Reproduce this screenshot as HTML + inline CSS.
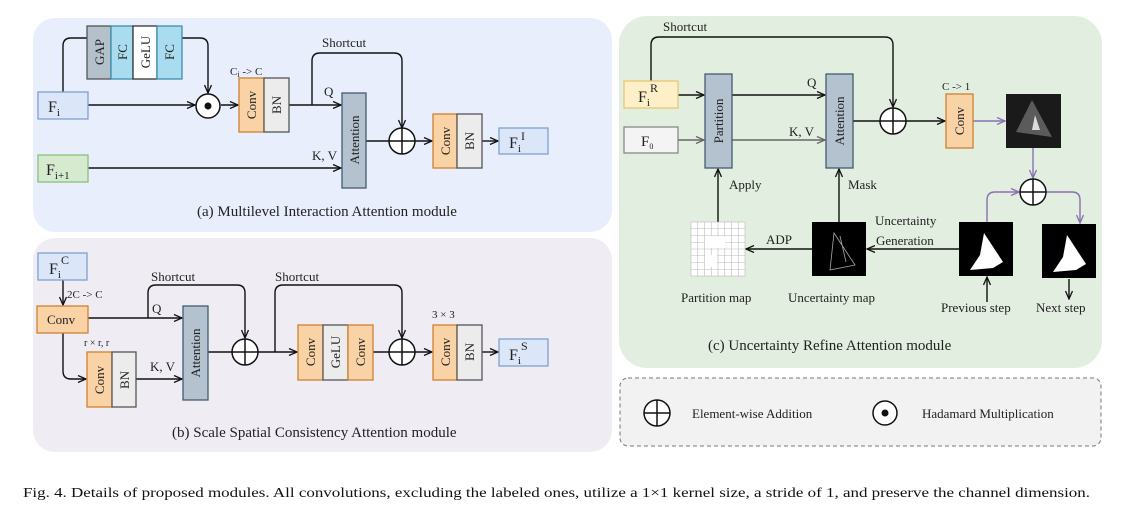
<!DOCTYPE html>
<html><head><meta charset="utf-8"><style>
html,body{margin:0;padding:0;background:#fff}
svg{display:block;font-family:"Liberation Serif",serif}
</style></head><body>
<svg width="1132" height="515" viewBox="0 0 1132 515" xmlns="http://www.w3.org/2000/svg">
<defs>
<marker id="a" markerWidth="10" markerHeight="8" refX="9" refY="4" orient="auto" markerUnits="userSpaceOnUse"><path d="M1,0.5 L9,4 L1,7.5" fill="none" stroke="#111" stroke-width="1.3"/></marker>
<marker id="g" markerWidth="10" markerHeight="8" refX="9" refY="4" orient="auto" markerUnits="userSpaceOnUse"><path d="M1,0.5 L9,4 L1,7.5" fill="none" stroke="#666" stroke-width="1.3"/></marker>
<marker id="p" markerWidth="10" markerHeight="8" refX="9" refY="4" orient="auto" markerUnits="userSpaceOnUse"><path d="M1,0.5 L9,4 L1,7.5" fill="none" stroke="#8a6fb0" stroke-width="1.3"/></marker>
</defs>
<!-- panels -->
<rect x="33" y="18" width="579" height="214" rx="22" fill="#e8eefb"/>
<rect x="33" y="238" width="579" height="214" rx="22" fill="#efedf3"/>
<rect x="619" y="16" width="483" height="352" rx="28" fill="#e2eedf"/>
<rect x="620" y="378" width="481" height="68" rx="8" fill="#f2f2f2" stroke="#777" stroke-dasharray="4,3"/>

<g fill="none" stroke="#111" stroke-width="1.4">
<!-- panel a -->
<path d="M63,92 V46 Q63,38 71,38 H87"/>
<path d="M182,38 H200 Q208,38 208,46 V93" marker-end="url(#a)"/>
<path d="M88,105 H195" marker-end="url(#a)"/>
<path d="M221,105 H238" marker-end="url(#a)"/>
<path d="M289,105 H341" marker-end="url(#a)"/>
<path d="M312,105 V61 Q312,53 320,53 H394 Q402,53 402,61 V128" marker-end="url(#a)"/>
<path d="M88,168 H341" marker-end="url(#a)"/>
<path d="M366,141 H432" marker-end="url(#a)"/>
<path d="M482,141 H498" marker-end="url(#a)"/>
<!-- panel b -->
<path d="M63,280 V305" marker-end="url(#a)"/>
<path d="M88,318 H182" marker-end="url(#a)"/>
<path d="M148,318 V293 Q148,285 156,285 H237 Q245,285 245,293 V338" marker-end="url(#a)"/>
<path d="M63,333 V371 Q63,379 71,379 H86" marker-end="url(#a)"/>
<path d="M136,379 H182" marker-end="url(#a)"/>
<path d="M208,352 H297" marker-end="url(#a)"/>
<path d="M275,352 V293 Q275,285 283,285 H394 Q402,285 402,293 V338" marker-end="url(#a)"/>
<path d="M373,352 H432" marker-end="url(#a)"/>
<path d="M482,352 H498" marker-end="url(#a)"/>
<!-- panel c -->
<path d="M651,81 V45 Q651,37 659,37 H885 Q893,37 893,45 V107" marker-end="url(#a)"/>
<path d="M678,95 H704" marker-end="url(#a)"/>
<path d="M732,95 H825" marker-end="url(#a)"/>
<path d="M853,121 H945" marker-end="url(#a)"/>
<path d="M718,222 V169" marker-end="url(#a)"/>
<path d="M839,222 V169" marker-end="url(#a)"/>
<path d="M959,249 H867" marker-end="url(#a)"/>
<path d="M812,249 H746" marker-end="url(#a)"/>
<path d="M987,302 V277" marker-end="url(#a)"/>
<path d="M1069,279 V299" marker-end="url(#a)"/>
</g>
<g fill="none" stroke="#666" stroke-width="1.4">
<path d="M678,140 H704" marker-end="url(#g)"/>
<path d="M732,140 H825" marker-end="url(#g)"/>
</g>
<g fill="none" stroke="#8a6fb0" stroke-width="1.4">
<path d="M973,121 H1005" marker-end="url(#p)"/>
<path d="M1033,148 V178" marker-end="url(#p)"/>
<path d="M987,222 V200 Q987,192 995,192 H1019" marker-end="url(#p)"/>
<path d="M1046,192 H1072 Q1080,192 1080,200 V223" marker-end="url(#p)"/>
</g>

<!-- boxes panel a -->
<g stroke-width="1.3">
<rect x="87" y="26" width="24" height="53" fill="#b4c0ca" stroke="#555"/>
<rect x="111" y="26" width="22" height="53" fill="#a9dcef" stroke="#3a8fb0"/>
<rect x="133" y="26" width="24" height="53" fill="#fff" stroke="#333"/>
<rect x="157" y="26" width="25" height="53" fill="#a9dcef" stroke="#3a8fb0"/>
<rect x="38" y="92" width="50" height="27" fill="#dbe6f8" stroke="#7fa0d0"/>
<rect x="38" y="155" width="50" height="27" fill="#d6ead0" stroke="#8cc07a"/>
<rect x="239" y="78" width="25" height="54" fill="#f9d3a6" stroke="#d08030"/>
<rect x="264" y="78" width="25" height="54" fill="#ececec" stroke="#555"/>
<rect x="342" y="93" width="24" height="95" fill="#b4c2cf" stroke="#455a70"/>
<rect x="433" y="114" width="24" height="54" fill="#f9d3a6" stroke="#d08030"/>
<rect x="457" y="114" width="25" height="54" fill="#ececec" stroke="#555"/>
<rect x="499" y="128" width="49" height="26" fill="#dbe6f8" stroke="#7fa0d0"/>
<!-- b -->
<rect x="38" y="253" width="49" height="27" fill="#dbe6f8" stroke="#7fa0d0"/>
<rect x="37" y="306" width="51" height="27" fill="#f9d3a6" stroke="#d08030"/>
<rect x="87" y="352" width="25" height="55" fill="#f9d3a6" stroke="#d08030"/>
<rect x="112" y="352" width="24" height="55" fill="#ececec" stroke="#555"/>
<rect x="183" y="306" width="25" height="94" fill="#b4c2cf" stroke="#455a70"/>
<rect x="298" y="325" width="25" height="55" fill="#f9d3a6" stroke="#d08030"/>
<rect x="323" y="325" width="25" height="55" fill="#ececec" stroke="#555"/>
<rect x="348" y="325" width="25" height="55" fill="#f9d3a6" stroke="#d08030"/>
<rect x="433" y="325" width="24" height="55" fill="#f9d3a6" stroke="#d08030"/>
<rect x="457" y="325" width="25" height="55" fill="#ececec" stroke="#555"/>
<rect x="499" y="339" width="49" height="27" fill="#dbe6f8" stroke="#7fa0d0"/>
<!-- c -->
<rect x="624" y="81" width="54" height="27" fill="#fdf0c8" stroke="#e8c870"/>
<rect x="624" y="127" width="54" height="26" fill="#f4f4f4" stroke="#888"/>
<rect x="705" y="74" width="27" height="94" fill="#b4c2cf" stroke="#455a70"/>
<rect x="826" y="74" width="27" height="94" fill="#b4c2cf" stroke="#455a70"/>
<rect x="946" y="94" width="27" height="54" fill="#f9d3a6" stroke="#d08030"/>
</g>
<!-- images -->
<rect x="1006" y="94" width="55" height="54" fill="#1a1a1a"/>
<path d="M1032,100 L1052,137 L1016,132 Z" fill="#777" opacity="0.7"/>
<path d="M1035,115 L1040,130 L1032,130 Z" fill="#ddd"/>
<rect x="812" y="222" width="54" height="54" fill="#000"/>
<path d="M834,233 L855,265 L830,270 Z M840,236 L846,262" fill="none" stroke="#aaa" stroke-width="0.8"/>
<rect x="959" y="222" width="54" height="54" fill="#000"/>
<path d="M984,233 L1003,262 L993,268 L970,270 L980,255 Z" fill="#fff"/>
<rect x="1042" y="224" width="54" height="54" fill="#000"/>
<path d="M1067,235 L1086,264 L1076,270 L1053,272 L1063,257 Z" fill="#fff"/>
<g stroke="#bbb" stroke-width="0.6">
<rect x="691" y="222" width="54" height="54" fill="#fff"/>
<path d="M691,228.75H745M691,235.5H745M691,242.25H745M691,249H745M691,255.75H745M691,262.5H745M691,269.25H745M697.75,222V276M704.5,222V276M711.25,222V276M718,222V276M724.75,222V276M731.5,222V276M738.25,222V276"/>
</g>
<rect x="705" y="236" width="20" height="12" fill="#fff"/>
<rect x="705" y="255" width="12" height="12" fill="#fff"/>

<!-- circles -->
<g fill="#fff" stroke="#111" stroke-width="1.5">
<circle cx="208" cy="106" r="12"/>
<circle cx="402" cy="141" r="13"/><path d="M389,141H415M402,128V154"/>
<circle cx="245" cy="352" r="13"/><path d="M232,352H258M245,339V365"/>
<circle cx="402" cy="352" r="13"/><path d="M389,352H415M402,339V365"/>
<circle cx="893" cy="121" r="13"/><path d="M880,121H906M893,108V134"/>
<circle cx="1033" cy="192" r="13"/><path d="M1020,192H1046M1033,179V205"/>
<circle cx="657" cy="413" r="13"/><path d="M644,413H670M657,400V426"/>
<circle cx="885" cy="413" r="12"/>
</g>
<circle cx="208" cy="106" r="3.5" fill="#111"/>
<circle cx="885" cy="413" r="3.5" fill="#111"/>

<!-- rotated labels -->
<g font-size="13" fill="#222" text-anchor="middle">
<text transform="translate(104,52) rotate(-90)">GAP</text>
<text transform="translate(127,52) rotate(-90)">FC</text>
<text transform="translate(150,52) rotate(-90)">GeLU</text>
<text transform="translate(174,52) rotate(-90)">FC</text>
<text transform="translate(256,105) rotate(-90)">Conv</text>
<text transform="translate(281,105) rotate(-90)">BN</text>
<text transform="translate(359,140) rotate(-90)">Attention</text>
<text transform="translate(450,141) rotate(-90)">Conv</text>
<text transform="translate(474,141) rotate(-90)">BN</text>
<text transform="translate(104,380) rotate(-90)">Conv</text>
<text transform="translate(129,380) rotate(-90)">BN</text>
<text transform="translate(200,353) rotate(-90)">Attention</text>
<text transform="translate(315,352) rotate(-90)">Conv</text>
<text transform="translate(340,352) rotate(-90)">GeLU</text>
<text transform="translate(365,352) rotate(-90)">Conv</text>
<text transform="translate(450,352) rotate(-90)">Conv</text>
<text transform="translate(474,352) rotate(-90)">BN</text>
<text transform="translate(723,121) rotate(-90)">Partition</text>
<text transform="translate(844,121) rotate(-90)">Attention</text>
<text transform="translate(964,121) rotate(-90)">Conv</text>
</g>

<!-- plain labels -->
<g font-size="13" fill="#222">
<text x="48" y="112" font-size="16">F<tspan font-size="11" dy="4">i</tspan></text>
<text x="46" y="175" font-size="16">F<tspan font-size="11" dy="4">i+1</tspan></text>
<text x="509" y="148" font-size="16">F<tspan font-size="11" dy="4">i</tspan><tspan font-size="12" dy="-12">I</tspan></text>
<text x="230" y="75" font-size="11">C<tspan font-size="8" dy="2">i</tspan><tspan dy="-2"> -&gt; C</tspan></text>
<text x="322" y="47">Shortcut</text>
<text x="324" y="96">Q</text>
<text x="312" y="160">K, V</text>
<text x="197" y="216" font-size="15">(a) Multilevel Interaction Attention module</text>

<text x="49" y="274" font-size="16">F<tspan font-size="11" dy="4">i</tspan><tspan font-size="12" dy="-14">C</tspan></text>
<text x="67" y="298" font-size="11">2C -&gt; C</text>
<text x="47" y="324">Conv</text>
<text x="84" y="346" font-size="10">r × r, r</text>
<text x="151" y="281">Shortcut</text>
<text x="152" y="313">Q</text>
<text x="150" y="371">K, V</text>
<text x="275" y="281">Shortcut</text>
<text x="432" y="318" font-size="11">3 × 3</text>
<text x="509" y="360" font-size="16">F<tspan font-size="11" dy="4">i</tspan><tspan font-size="12" dy="-14">S</tspan></text>
<text x="172" y="437" font-size="15">(b) Scale Spatial Consistency Attention module</text>

<text x="663" y="31">Shortcut</text>
<text x="638" y="102" font-size="16">F<tspan font-size="11" dy="4">i</tspan><tspan font-size="12" dy="-14">R</tspan></text>
<text x="641" y="146" font-size="15">F<tspan font-size="8" dy="3">0</tspan></text>
<text x="807" y="87">Q</text>
<text x="789" y="136">K, V</text>
<text x="942" y="90" font-size="11">C -&gt; 1</text>
<text x="729" y="189">Apply</text>
<text x="848" y="189">Mask</text>
<text x="875" y="225">Uncertainty</text>
<text x="876" y="245">Generation</text>
<text x="766" y="244">ADP</text>
<text x="681" y="302">Partition map</text>
<text x="788" y="302">Uncertainty map</text>
<text x="941" y="312">Previous step</text>
<text x="1036" y="312">Next step</text>
<text x="708" y="350" font-size="15">(c) Uncertainty Refine Attention module</text>

<text x="692" y="418">Element-wise Addition</text>
<text x="922" y="418">Hadamard Multiplication</text>
</g>
<text x="23" y="497" font-size="13.5" fill="#111" textLength="1067" lengthAdjust="spacingAndGlyphs" font-family="Liberation Serif,serif">Fig. 4.  Details of proposed modules. All convolutions, excluding the labeled ones, utilize a 1×1 kernel size, a stride of 1, and preserve the channel dimension.</text>
</svg>
</body></html>
